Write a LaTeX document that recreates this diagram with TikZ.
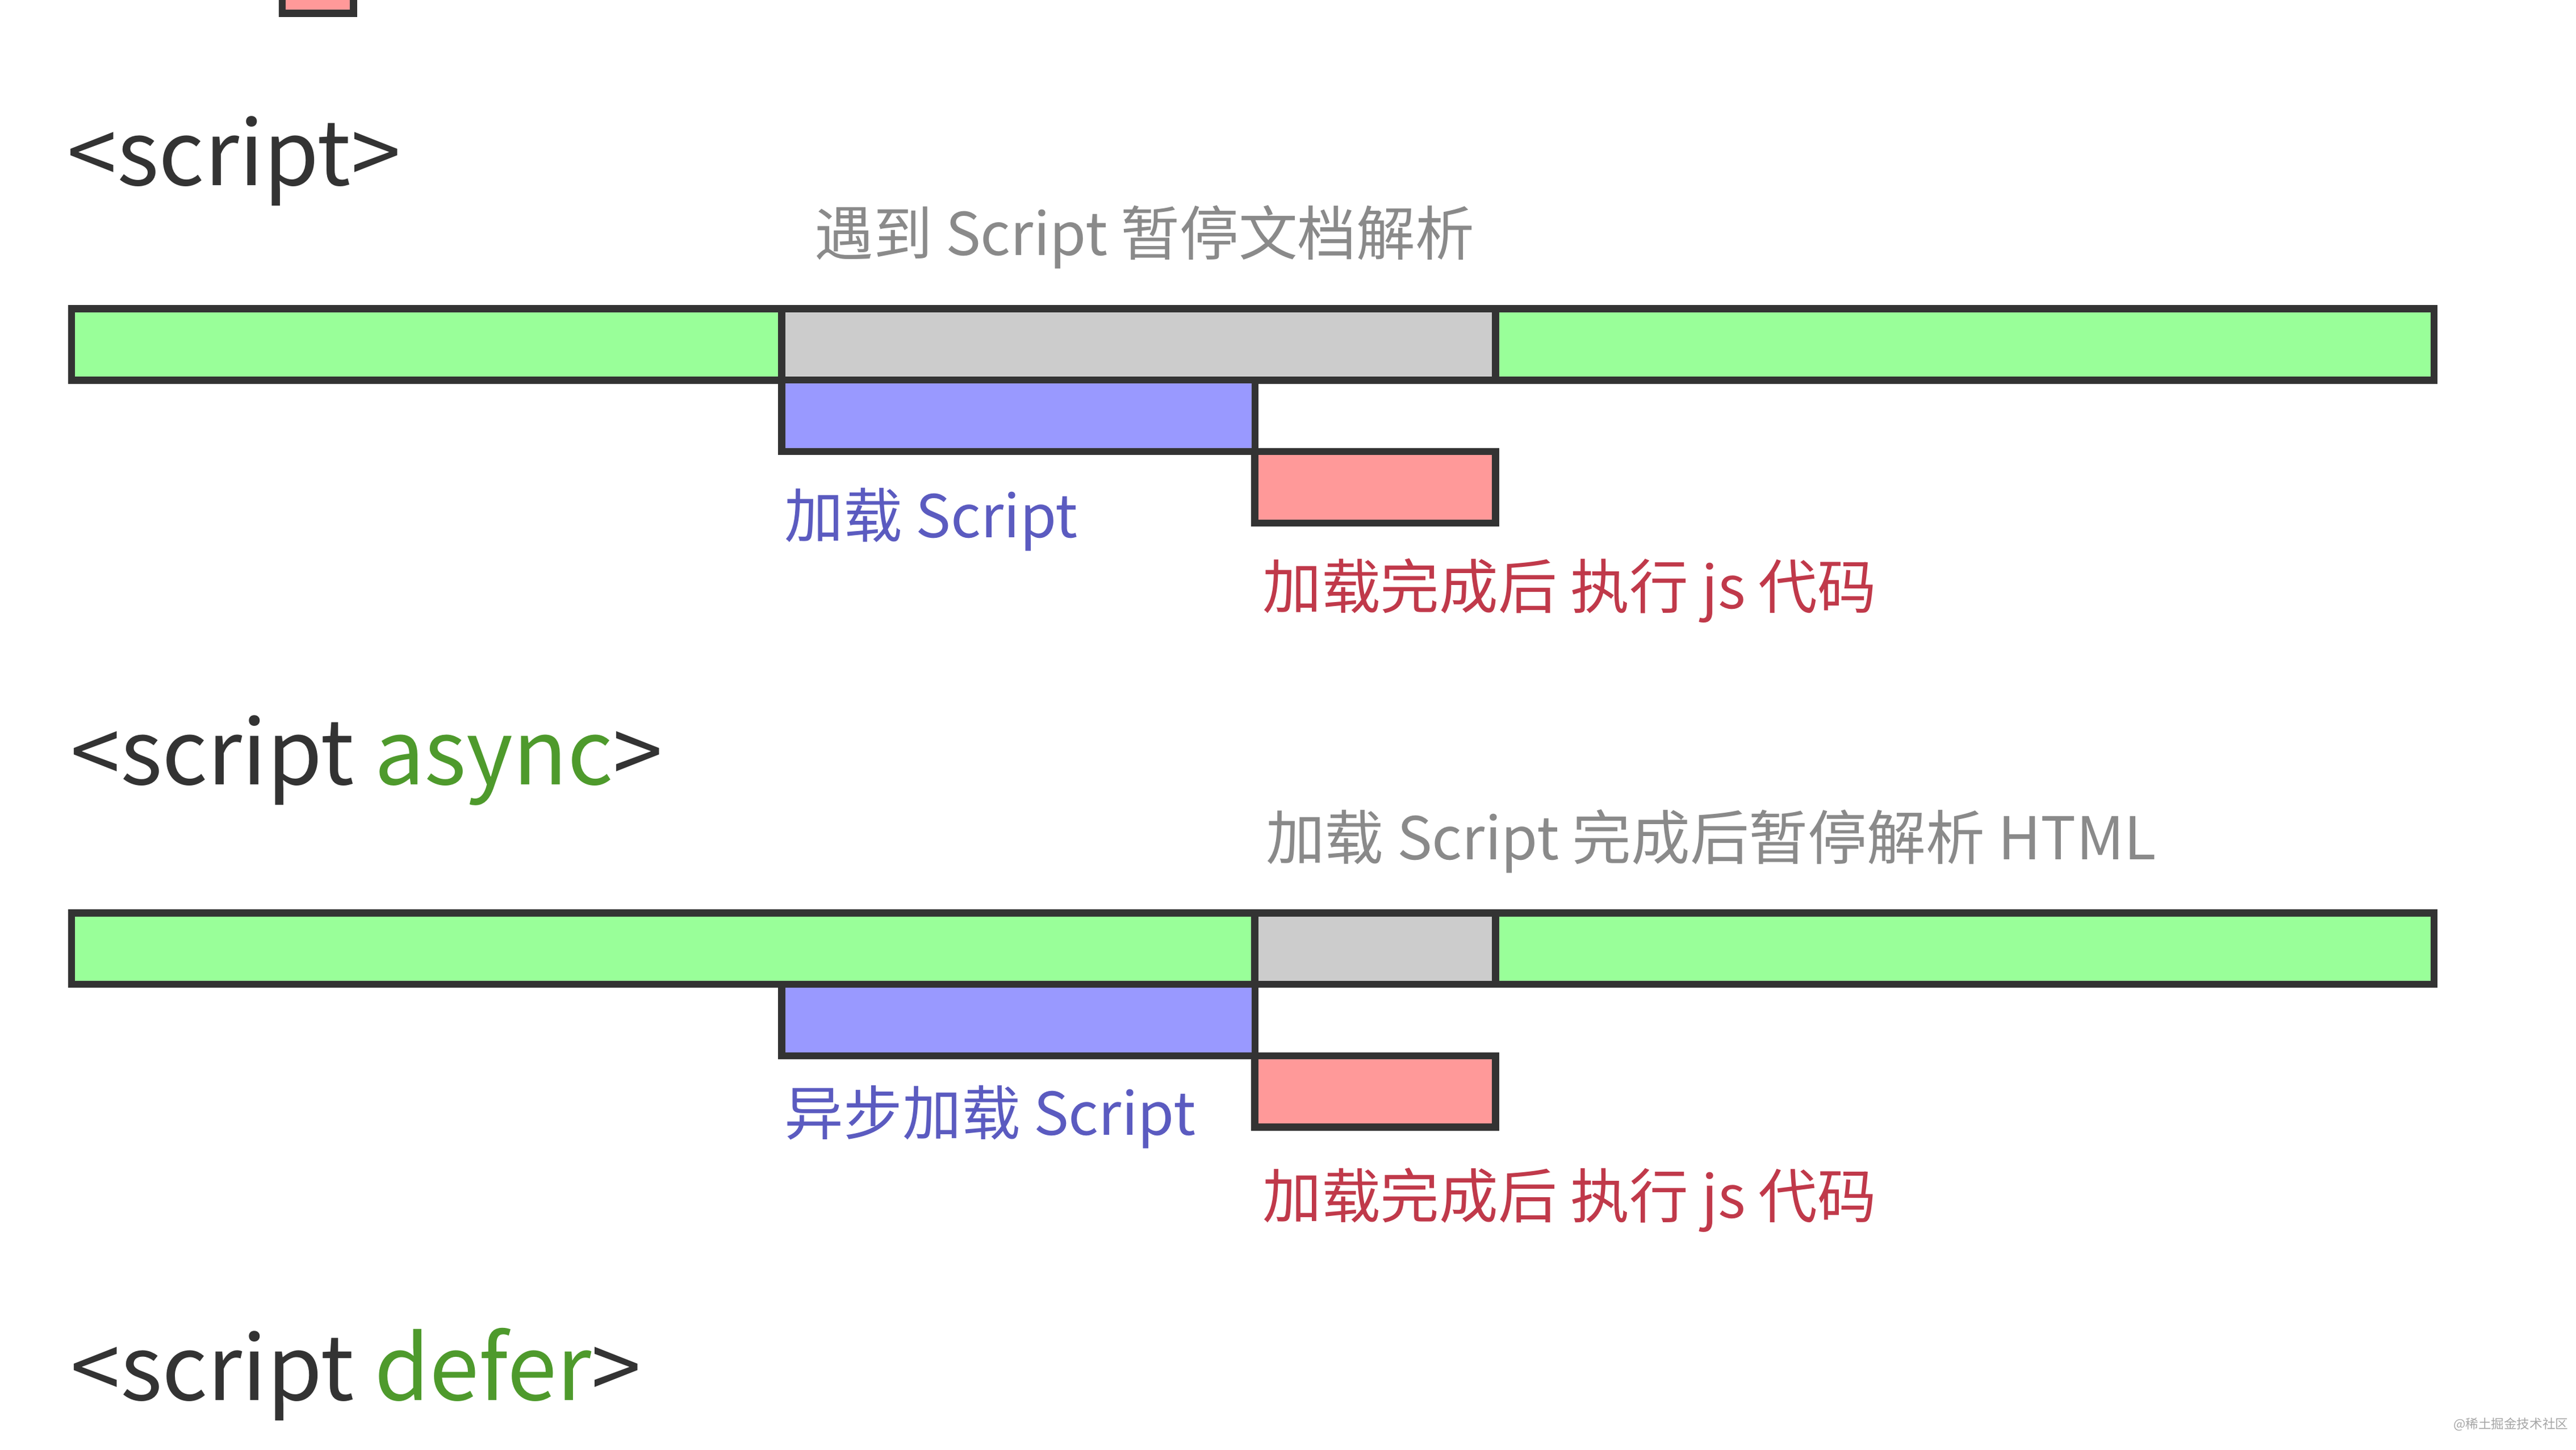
\documentclass[tikz,border=0pt]{standalone}
\usepackage{fontspec}
\setmainfont{Noto Sans CJK SC}
\usetikzlibrary{positioning}
\definecolor{parsegreen}{HTML}{99FF99}
\definecolor{pausegray}{HTML}{CCCCCC}
\definecolor{loadblue}{HTML}{9999FF}
\definecolor{runpink}{HTML}{FF9999}
\definecolor{edge}{HTML}{333333}
\definecolor{txtblue}{HTML}{5B5BC0}
\definecolor{txtred}{HTML}{C0394A}
\definecolor{txtgray}{HTML}{8A8A8A}
\definecolor{txtgreen}{HTML}{4E9A2C}
\tikzset{
  seg/.style={draw=edge, line width=1.2pt, inner sep=0pt, outer sep=0pt, anchor=north west, minimum height=0.43cm},
  title/.style={anchor=west, inner sep=0pt, font=\fontsize{15.3}{18}\selectfont, text=black!80},
  note/.style={anchor=west, inner sep=0pt, font=\fontsize{10.1}{12}\selectfont},
}
\begin{document}
\begin{tikzpicture}[x=0.01cm, y=-0.01cm]
    \useasboundingbox (0,0) rectangle (1552,873.5);
    % bord du haut
    \begin{scope}
        \clip (0,0) rectangle (1552,873.5);
        \node[seg, fill=runpink, minimum width=0.43cm] (legend) at (170,-35) {};
    \end{scope}

    % <script>
    \node[title] (t1) at (40,97) {<script>};
    \node[note, text=txtgray] (n1) at (490,143) {遇到 Script 暂停文档解析};
    \node[seg, fill=parsegreen, minimum width=4.28cm] (a1) at (43,186) {};
    \node[seg, fill=pausegray, minimum width=4.30cm] (b1) at (471,186) {};
    \node[seg, fill=parsegreen, minimum width=5.65cm] (c1) at (901,186) {};
    \node[seg, fill=loadblue, minimum width=2.85cm] (l1) at (471,229) {};
    \node[seg, fill=runpink, minimum width=1.45cm] (r1) at (756,272) {};
    \node[note, text=txtblue] (ln1) at (472,313) {加载 Script};
    \node[note, text=txtred] (rn1) at (760,356) {加载完成后 执行 js 代码};

    % <script async>
    \node[title] (t2) at (42,458) {<script \textcolor{txtgreen}{async}>};
    \node[note, text=txtgray] (n2) at (762,507) {加载 Script 完成后暂停解析 HTML};
    \node[seg, fill=parsegreen, minimum width=7.13cm] (a2) at (43,550) {};
    \node[seg, fill=pausegray, minimum width=1.45cm] (b2) at (756,550) {};
    \node[seg, fill=parsegreen, minimum width=5.65cm] (c2) at (901,550) {};
    \node[seg, fill=loadblue, minimum width=2.85cm] (l2) at (471,593) {};
    \node[seg, fill=runpink, minimum width=1.45cm] (r2) at (756,636) {};
    \node[note, text=txtblue] (ln2) at (472,673) {异步加载 Script};
    \node[note, text=txtred] (rn2) at (760,723) {加载完成后 执行 js 代码};

    % <script defer>
    \node[title] (t3) at (42,828) {<script \textcolor{txtgreen}{defer}>};

    \node[anchor=east, inner sep=0pt, font=\fontsize{2.2}{3}\selectfont, text=black!35] (mark) at (1548,858) {@稀土掘金技术社区};
\end{tikzpicture}
\end{document}
